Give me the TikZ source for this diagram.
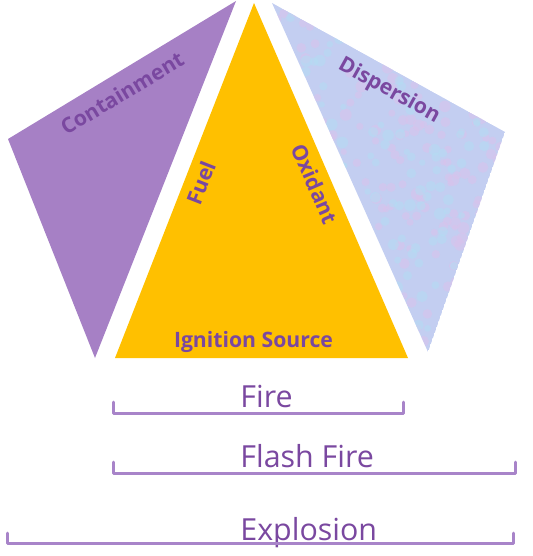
\documentclass[tikz,border=0pt]{standalone}
\usepackage{fontspec}
\setmainfont{Open Sans}
\definecolor{violetfill}{HTML}{A680C5}
\definecolor{violettext}{HTML}{7A48A0}
\definecolor{bracketline}{HTML}{A884C9}
\definecolor{flameyellow}{HTML}{FFC000}
\definecolor{mistblue}{HTML}{C3CEF1}
\definecolor{mistpink}{HTML}{D9C3EC}
\definecolor{mistcyan}{HTML}{B3DDF3}
\tikzset{
  sidelabel/.style={font=\bfseries\fontsize{10.6}{12}\selectfont, text=violettext, inner sep=0pt},
  rangelabel/.style={font=\fontsize{15.2}{17}\selectfont, text=violettext, inner sep=0pt, anchor=base west},
  rangebracket/.style={draw=bracketline, line width=1.5pt, line cap=round, line join=round}
}
\begin{document}
\begin{tikzpicture}[x=.5pt, y=-.5pt]
\useasboundingbox (0,0) rectangle (532,556);
%pentagon parts
\fill[violetfill] (236,1) -- (8,139) -- (95,358) -- cycle;
\begin{scope}
\clip (272,3) -- (505,132) -- (428,352) -- cycle;
\fill[mistblue] (272,3) -- (505,132) -- (428,352) -- cycle;
\pgfmathsetseed{7}
\foreach \i in {1,...,260}
\fill[mistpink, opacity=.55] (270+rnd*240, rnd*355) circle (3+rnd*3);
\foreach \i in {1,...,200}
\fill[mistcyan, opacity=.5] (270+rnd*240, rnd*355) circle (3+rnd*3);
\end{scope}
\fill[flameyellow] (254,3) -- (408,358) -- (115,358) -- cycle;
%labels
\node[sidelabel, rotate=31] (containment) at (122,93) {Containment};
\node[sidelabel, rotate=-29] (dispersion) at (389,91) {Dispersion};
\node[sidelabel, rotate=68.6] (fuel) at (201,183) {Fuel};
\node[sidelabel, rotate=-66.5] (oxidant) at (315,184) {Oxidant};
\node[sidelabel, anchor=base] (ignition) at (253.5,347) {Ignition Source};
%ranges
\node[rangelabel] (fire) at (240,407) {Fire};
\node[rangelabel] (flash fire) at (240,467) {Flash Fire};
\node[rangelabel] (explosion) at (240,540) {Explosion};
\coordinate (fire a) at (113,402);
\coordinate (fire b) at (403,402);
\coordinate (flash a) at (113,462);
\coordinate (flash b) at (515,462);
\coordinate (explosion a) at (7,533);
\coordinate (explosion b) at (513,533);
\foreach \r/\d in {fire/11, flash/11, explosion/10}
\draw[rangebracket] (\r\space a) -- ++(0,\d) -| (\r\space b);
\end{tikzpicture}
\end{document}
